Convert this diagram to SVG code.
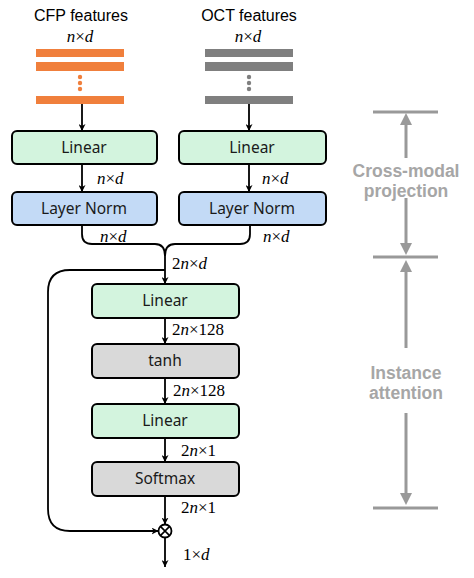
<svg xmlns="http://www.w3.org/2000/svg" width="474" height="578" viewBox="0 0 474 578">
<defs>
<style>
.hdr{font-family:"Liberation Sans",Arial,sans-serif;font-size:16px;fill:#000;text-anchor:middle}
.box{stroke:#000;stroke-width:2}
.lin{fill:#d3f4de}
.ln{fill:#c3daf6}
.gr{fill:#d9d9d9}
.bt{font-family:"Noto Sans",sans-serif;font-size:15.5px;fill:#1a1a1a;text-anchor:middle}
.m{font-family:"Liberation Serif",serif;font-size:17px;fill:#000}
.m tspan.i{font-style:italic}
.c{fill:none;stroke:#000;stroke-width:1.8}
.g{stroke:#999;stroke-width:3;fill:none}
.gt{font-family:"Liberation Sans",Arial,sans-serif;font-size:17.5px;font-weight:bold;fill:#a6a6a6;text-anchor:middle}
</style>
<marker id="ah2" viewBox="0 0 10 10" refX="10" refY="5" markerWidth="7" markerHeight="7" orient="auto" markerUnits="userSpaceOnUse">
<path d="M0,0 L10,5 L0,10 L3,5 z" fill="#000"/>
</marker>
</defs>
<rect width="474" height="578" fill="#fff"/>

<g id="cfp">
<text class="hdr" x="81" y="21">CFP features</text>
<text class="m" x="80" y="42" text-anchor="middle"><tspan class="i">n</tspan>×<tspan class="i">d</tspan></text>
<rect x="36" y="49" width="88" height="8" fill="#f07f3c"/>
<rect x="36" y="62" width="88" height="9" fill="#f07f3c"/>
<circle cx="80" cy="77" r="2.2" fill="#f07f3c"/>
<circle cx="80" cy="83" r="2.2" fill="#f07f3c"/>
<circle cx="80" cy="89" r="2.2" fill="#f07f3c"/>
<rect x="36" y="96" width="88" height="8" fill="#f07f3c"/>
</g>

<g id="oct">
<text class="hdr" x="249" y="21">OCT features</text>
<text class="m" x="248" y="42" text-anchor="middle"><tspan class="i">n</tspan>×<tspan class="i">d</tspan></text>
<rect x="205" y="49" width="88" height="8" fill="#7f7f7f"/>
<rect x="205" y="62" width="88" height="9" fill="#7f7f7f"/>
<circle cx="249" cy="77" r="2.2" fill="#7f7f7f"/>
<circle cx="249" cy="83" r="2.2" fill="#7f7f7f"/>
<circle cx="249" cy="89" r="2.2" fill="#7f7f7f"/>
<rect x="205" y="96" width="88" height="8" fill="#7f7f7f"/>
</g>

<g id="linear1">
<rect class="box lin" x="12" y="131" width="145" height="33" rx="5"/>
<text class="bt" x="84" y="153">Linear</text>
</g>
<g id="linear2">
<rect class="box lin" x="179" y="131" width="147" height="33" rx="5"/>
<text class="bt" x="252" y="153">Linear</text>
</g>
<g id="ln1">
<rect class="box ln" x="12" y="192" width="145" height="33" rx="5"/>
<text class="bt" x="84" y="214">Layer Norm</text>
</g>
<g id="ln2">
<rect class="box ln" x="179" y="192" width="147" height="33" rx="5"/>
<text class="bt" x="252" y="214">Layer Norm</text>
</g>
<g id="linear3">
<rect class="box lin" x="92" y="284" width="147" height="34" rx="5"/>
<text class="bt" x="165" y="306">Linear</text>
</g>
<g id="tanh">
<rect class="box gr" x="92" y="344" width="147" height="34" rx="5"/>
<text class="bt" x="165" y="366">tanh</text>
</g>
<g id="linear4">
<rect class="box lin" x="92" y="404" width="147" height="34" rx="5"/>
<text class="bt" x="165" y="426">Linear</text>
</g>
<g id="softmax">
<rect class="box gr" x="92" y="462" width="147" height="34" rx="5"/>
<text class="bt" x="165" y="484">Softmax</text>
</g>
<g id="mult">
<circle cx="165" cy="531" r="6.5" fill="#fff" stroke="#000" stroke-width="1.8"/>
<path d="M160.4,526.4 L169.6,535.6 M169.6,526.4 L160.4,535.6" stroke="#000" stroke-width="1.6"/>
</g>

<g id="connectors">
<path class="c" d="M82,104 V131" marker-end="url(#ah2)"/>
<path class="c" d="M249,104 V131" marker-end="url(#ah2)"/>
<path class="c" d="M82,164 V192" marker-end="url(#ah2)"/>
<path class="c" d="M249,164 V192" marker-end="url(#ah2)"/>
<path class="c" d="M82,225 V234 Q82,244 92,244 H155 Q165,244 165,256"/>
<path class="c" d="M250,225 V234 Q250,244 240,244 H175 Q165,244 165,256"/>
<path class="c" d="M165,256 V284" marker-end="url(#ah2)"/>
<path class="c" d="M165,270 H70 Q48,270 48,292 V509 Q48,531 70,531 H158.5" marker-end="url(#ah2)"/>
<path class="c" d="M165,318 V344" marker-end="url(#ah2)"/>
<path class="c" d="M165,378 V404" marker-end="url(#ah2)"/>
<path class="c" d="M165,438 V462" marker-end="url(#ah2)"/>
<path class="c" d="M165,496 V524.5" marker-end="url(#ah2)"/>
<path class="c" d="M165,537.5 V567" marker-end="url(#ah2)"/>
</g>

<g id="labels">
<text class="m" x="97" y="184"><tspan class="i">n</tspan>×<tspan class="i">d</tspan></text>
<text class="m" x="262" y="184"><tspan class="i">n</tspan>×<tspan class="i">d</tspan></text>
<text class="m" x="100" y="242"><tspan class="i">n</tspan>×<tspan class="i">d</tspan></text>
<text class="m" x="263" y="242"><tspan class="i">n</tspan>×<tspan class="i">d</tspan></text>
<text class="m" x="172" y="269">2<tspan class="i">n</tspan>×<tspan class="i">d</tspan></text>
<text class="m" x="172" y="335">2<tspan class="i">n</tspan>×128</text>
<text class="m" x="173" y="396">2<tspan class="i">n</tspan>×128</text>
<text class="m" x="181" y="456">2<tspan class="i">n</tspan>×1</text>
<text class="m" x="181" y="513">2<tspan class="i">n</tspan>×1</text>
<text class="m" x="183" y="560">1×<tspan class="i">d</tspan></text>
</g>

<g id="side">
<path class="g" d="M373,112 H438 M373,257 H438 M373,508 H438"/>
<path class="g" d="M406,158 V122"/>
<path d="M406,113 L400,125 L412,125 z" fill="#999"/>
<path class="g" d="M406,198 V243"/>
<path d="M406,255 L400,243 L412,243 z" fill="#999"/>
<path class="g" d="M406,348 V272"/>
<path d="M406,260 L400,272 L412,272 z" fill="#999"/>
<path class="g" d="M406,413 V493"/>
<path d="M406,505 L400,493 L412,493 z" fill="#999"/>
<text class="gt" x="406" y="177">Cross-modal</text>
<text class="gt" x="406" y="197">projection</text>
<text class="gt" x="406" y="379">Instance</text>
<text class="gt" x="406" y="399">attention</text>
</g>
</svg>
